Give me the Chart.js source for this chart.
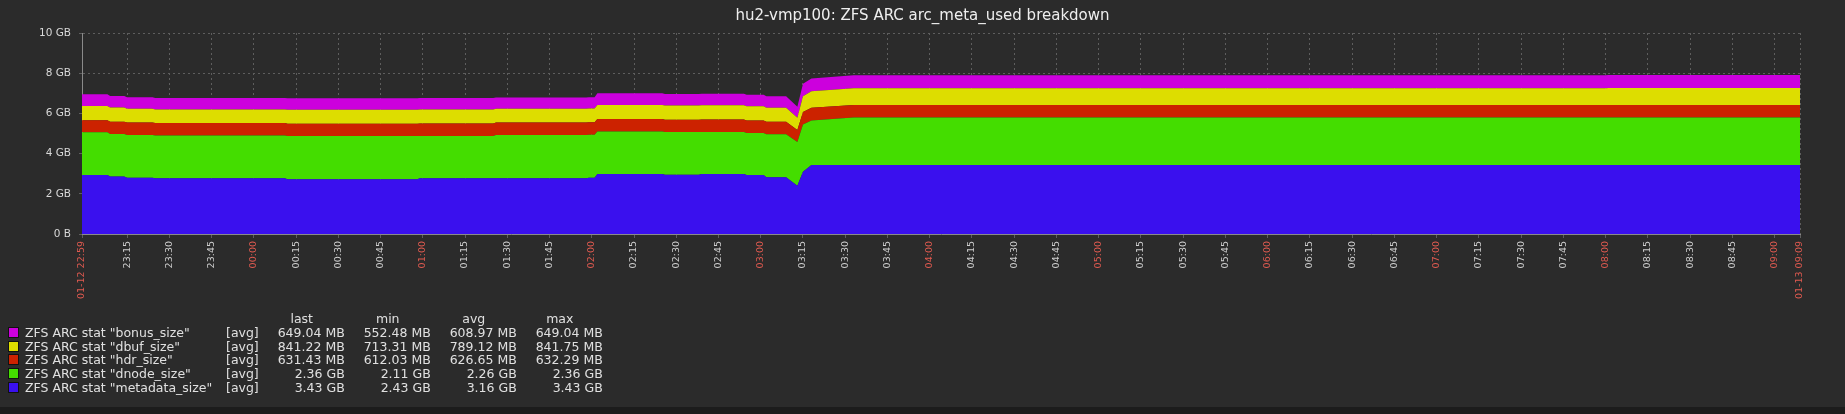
<!DOCTYPE html>
<html>
<head>
<meta charset="utf-8">
<script src="https://cdn.jsdelivr.net/npm/chart.js@4/dist/chart.umd.min.js"></script>
<style>
  body{margin:0;background:#2b2b2b;font-family:"DejaVu Sans",sans-serif;color:#e0e0e0;}
  #wrap{position:relative;width:1845px;height:414px;overflow:hidden;}
  #title{position:absolute;top:6px;left:0;width:1845px;text-align:center;font-size:15px;color:#eee;}
  #legend{position:absolute;left:8px;top:312px;font-size:12.5px;border-collapse:collapse;line-height:13.8px;}
  #legend td{padding:0;height:13.8px;white-space:nowrap;}
  #legend td.n{text-align:right;width:86px;}
  #legend th{font-weight:normal;text-align:center;height:13.8px;padding:0;}
  .sw{display:inline-block;width:9px;height:9px;border:1px solid #111;margin-right:6px;vertical-align:-1px;}
  #bottom{position:absolute;left:0;top:407px;width:1845px;height:7px;background:#1c1c1c;}
</style>
</head>
<body>
<div id="wrap">
  <canvas id="chart" width="1845" height="414"></canvas>
  <div id="title">hu2-vmp100: ZFS ARC arc_meta_used breakdown</div>
  <table id="legend"></table>
  <div id="bottom"></div>
</div>
<script>
// minutes since 01-12 22:59
const times     = [0,   9,   10,  15,  16,  25,  26,  72,  73,  119, 120, 146, 147, 179, 180, 182, 183, 206, 207, 219, 220, 235, 236, 242, 243, 250, 254, 256, 259, 274, 541, 542, 610];
const metadata  = [2.94,2.94,2.86,2.86,2.80,2.80,2.77,2.77,2.73,2.73,2.77,2.77,2.77,2.77,2.80,2.80,2.98,2.98,2.95,2.95,2.98,2.98,2.93,2.93,2.82,2.82,2.40,3.10,3.43,3.43,3.43,3.43,3.43];
const dnode     = [2.12,2.12,2.12,2.12,2.13,2.13,2.13,2.13,2.14,2.14,2.11,2.11,2.16,2.16,2.14,2.14,2.12,2.12,2.12,2.12,2.10,2.10,2.10,2.10,2.14,2.14,2.18,2.35,2.22,2.36,2.36,2.36,2.36];
const hdr       = [0.60,0.60,0.61,0.61,0.62,0.62,0.62,0.62,0.62,0.62,0.62,0.62,0.62,0.62,0.62,0.62,0.62,0.62,0.62,0.62,0.62,0.62,0.62,0.62,0.62,0.62,0.60,0.62,0.63,0.63,0.63,0.63,0.63];
const dbuf      = [0.71,0.71,0.70,0.70,0.68,0.68,0.68,0.68,0.69,0.69,0.69,0.69,0.68,0.68,0.68,0.68,0.70,0.70,0.70,0.70,0.70,0.70,0.70,0.70,0.70,0.70,0.60,0.78,0.82,0.83,0.83,0.84,0.84];
const bonus     = [0.58,0.58,0.57,0.57,0.57,0.57,0.57,0.57,0.57,0.57,0.57,0.57,0.56,0.56,0.56,0.56,0.58,0.58,0.58,0.58,0.58,0.58,0.58,0.58,0.57,0.57,0.55,0.62,0.64,0.65,0.65,0.65,0.65];

const yTicks = [0,2,4,6,8,10];
const yLabels = ["0 B","2 GB","4 GB","6 GB","8 GB","10 GB"];

const seriesNames = ['ZFS ARC stat "bonus_size"','ZFS ARC stat "dbuf_size"','ZFS ARC stat "hdr_size"','ZFS ARC stat "dnode_size"','ZFS ARC stat "metadata_size"'];
const seriesColors = ['#cc00dd','#dddd00','#cc2200','#44dd00','#3a10ee'];
const lastVals = ["649.04 MB","841.22 MB","631.43 MB","2.36 GB","3.43 GB"];
const minVals  = ["552.48 MB","713.31 MB","612.03 MB","2.11 GB","2.43 GB"];
const avgVals  = ["608.97 MB","789.12 MB","626.65 MB","2.26 GB","3.16 GB"];
const maxVals  = ["649.04 MB","841.75 MB","632.29 MB","2.36 GB","3.43 GB"];

// x ticks every 15 minutes, plus the two ends
let xTicks = [0];
for(let t=16;t<=601;t+=15) xTicks.push(t);
xTicks.push(610);

function tickLabel(t){
  if(t===0) return "01-12 22:59";
  if(t===610) return "01-13 09:09";
  let m = (22*60+59+t)%(24*60);
  return String(Math.floor(m/60)).padStart(2,"0")+":"+String(m%60).padStart(2,"0");
}
function isRed(t){
  return t===0 || t===610 || (22*60+59+t)%60===0;
}

const stackOrder = [metadata,dnode,hdr,dbuf,bonus];
const stackColors = ['#3a10ee','#44dd00','#cc2200','#dddd00','#cc00dd'];
const datasets = stackOrder.map((arr,i)=>({
  data: arr.map((v,j)=>({x:times[j],y:v})),
  backgroundColor: stackColors[i],
  borderColor: stackColors[i],
  borderWidth: 0,
  pointRadius: 0,
  tension: 0,
  fill: i===0 ? 'origin' : '-1'
}));

new Chart(document.getElementById("chart"),{
  type:'line',
  data:{datasets},
  options:{
    responsive:false,
    animation:false,
    layout:{padding:{top:33,right:45,bottom:110,left:0}},
    plugins:{legend:{display:false},tooltip:{enabled:false}},
    scales:{
      x:{
        type:'linear', min:0, max:610,
        afterBuildTicks: s => { s.ticks = xTicks.map(v=>({value:v})); },
        afterFit: s => { s.height = 70; },
        ticks:{
          autoSkip:false, minRotation:90, maxRotation:90,
          font:{size:9.5,family:"DejaVu Sans"},
          color: c => isRed(c.tick.value) ? '#e05a50' : '#cfcfcf',
          callback: v => tickLabel(v)
        },
        grid:{color:'#5e5e5e', tickLength:4},
        border:{color:'#8a8a8a', dash:[2,3]}
      },
      y:{
        stacked:true, min:0, max:10,
        afterBuildTicks: s => { s.ticks = yTicks.map(v=>({value:v})); },
        afterFit: s => { s.width = 82; },
        ticks:{
          font:{size:10.5,family:"DejaVu Sans"}, color:'#d8d8d8', padding:8,
          callback: v => yLabels[yTicks.indexOf(v)]
        },
        grid:{color:'#5e5e5e', tickLength:3},
        border:{color:'#8a8a8a', dash:[2,3]}
      }
    }
  }
});

let html = '<tr><th></th><th></th><th class="n">last</th><th class="n">min</th><th class="n">avg</th><th class="n">max</th></tr>';
seriesNames.forEach((n,i)=>{
  html += `<tr><td style="width:218px"><span class="sw" style="background:${seriesColors[i]}"></span>${n}</td>
    <td style="width:32px">[avg]</td>
    <td class="n">${lastVals[i]}</td><td class="n">${minVals[i]}</td><td class="n">${avgVals[i]}</td><td class="n">${maxVals[i]}</td></tr>`;
});
document.getElementById("legend").innerHTML = html;
</script>
</body>
</html>
